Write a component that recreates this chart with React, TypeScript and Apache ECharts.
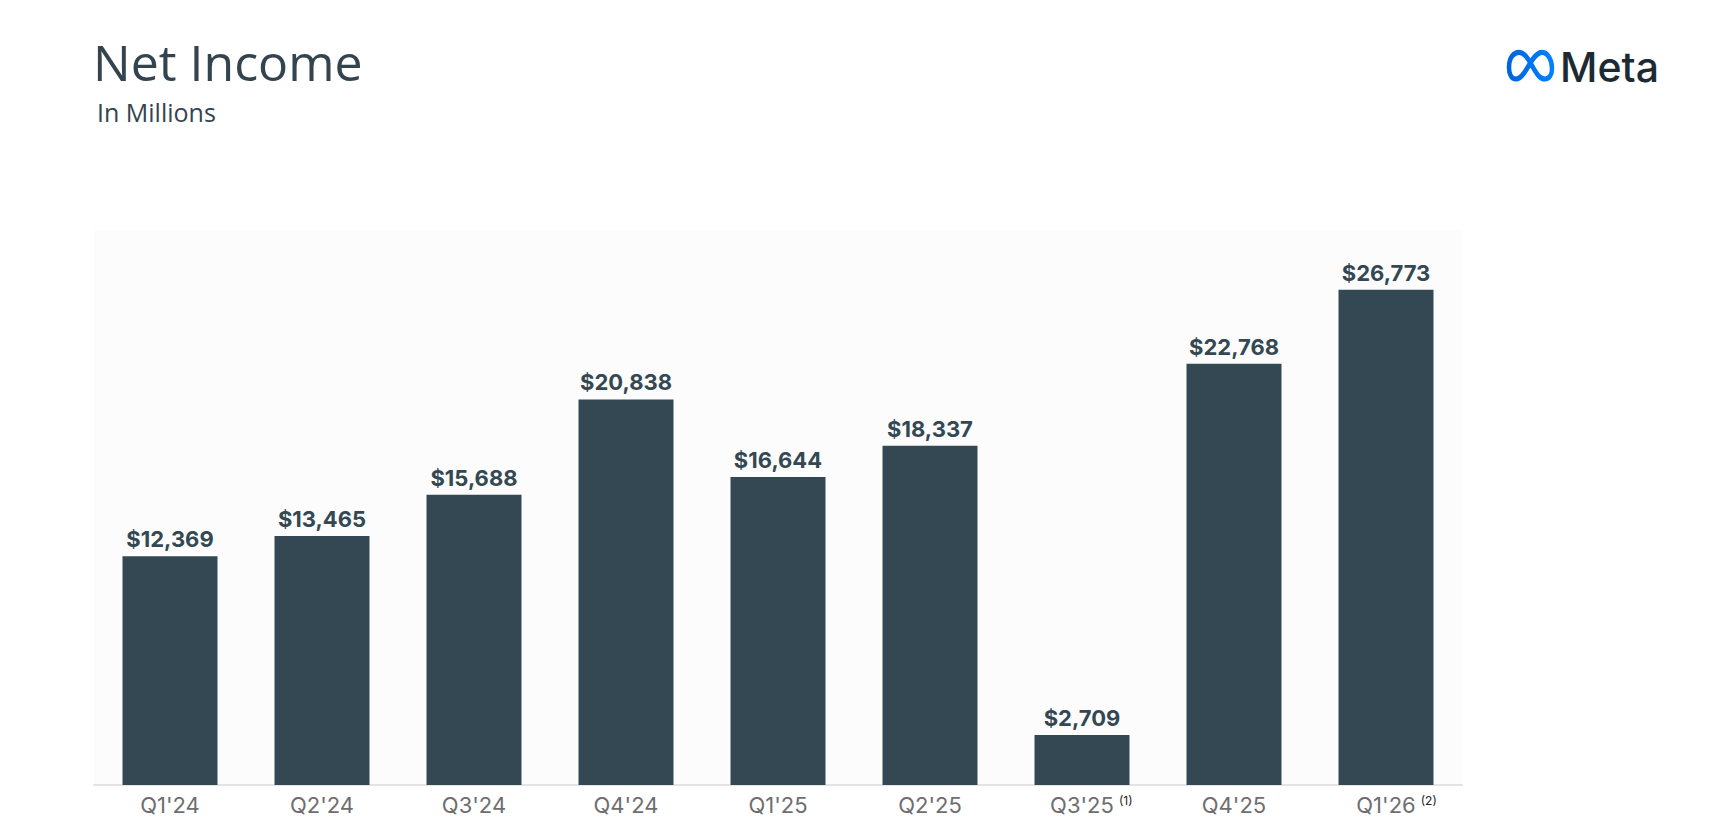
import React, { useEffect, useRef } from "react";
import * as echarts from "echarts";

const categories = ["Q1'24", "Q2'24", "Q3'24", "Q4'24", "Q1'25", "Q2'25", "Q3'25", "Q4'25", "Q1'26"];
const footnotes = ["", "", "", "", "", "", "(1)", "", "(2)"];
const netIncome = [12369, 13465, 15688, 20838, 16644, 18337, 2709, 22768, 26773];

const TITLE = "Net Income";
const SUBTITLE = "In Millions";

const INFINITY_D =
  "M8,30 C8,12 18,4 28,4 C40,4 48,18 56,30 C64,42 70,50 80,50 C88,50 94,43 94,32 C94,18 86,4 74,4 C62,4 52,20 44,32 C36,44 30,50 22,50 C13,50 8,42 8,30 Z";

export default function App() {
  const ref = useRef<HTMLDivElement>(null);
  useEffect(() => {
    if (!ref.current) return;
    try {
      echarts.graphic.registerShape("metaInf", echarts.graphic.extendPath(INFINITY_D, {}) as any);
    } catch (e) {}
    const chart = echarts.init(ref.current, null, { renderer: "svg" });
    const font = "Inter, 'Noto Sans', sans-serif";
    chart.setOption({
      animation: false,
      backgroundColor: "#ffffff",
      grid: {
        left: 94,
        right: 272,
        top: 230,
        bottom: 52,
        show: true,
        backgroundColor: "#fcfcfc",
        borderWidth: 0,
      },
      title: [
        {
          text: TITLE,
          left: 93,
          top: 37,
          padding: 0,
          textStyle: { fontFamily: "'Open Sans', sans-serif", fontSize: 50, fontWeight: 400, color: "#33444f" },
        },
        {
          text: SUBTITLE,
          left: 97,
          top: 99,
          padding: 0,
          textStyle: { fontFamily: "'Open Sans', sans-serif", fontSize: 25, fontWeight: 400, color: "#33444f" },
        },
      ],
      graphic: [
        {
          type: "metaInf",
          x: 1505,
          y: 50,
          scaleX: 0.5,
          scaleY: 0.58,
          style: {
            fill: null,
            stroke: new echarts.graphic.LinearGradient(0, 0, 1, 0, [
              { offset: 0, color: "#0064e0" },
              { offset: 1, color: "#0082fb" },
            ]),
            lineWidth: 9,
          },
        },
        {
          type: "text",
          x: 1560,
          y: 46,
          style: {
            text: "Meta",
            font: "500 41px Inter, 'Noto Sans', sans-serif",
            fill: "#1c2b33",
          },
        },
      ],
      xAxis: {
        type: "category",
        data: categories,
        axisLine: { lineStyle: { color: "#e3e3e3", width: 2 } },
        axisTick: { show: false },
        axisLabel: {
          interval: 0,
          margin: 9,
          fontFamily: font,
          fontSize: 22,
          color: "#6e6e6e",
          formatter: (v: string, i: number) => {
            const f = footnotes[i];
            return f ? `{sp|${f}}${v}{sup|${f}}` : v;
          },
          rich: {
            sup: { fontSize: 12, color: "#222", verticalAlign: "top", padding: [0, 0, 8, 5], fontFamily: font },
            sp: { fontSize: 12, color: "transparent", padding: [0, 5, 8, 0], fontFamily: font },
          },
        },
      },
      yAxis: {
        type: "value",
        min: 0,
        max: 30000,
        show: false,
        splitLine: { show: false },
      },
      series: [
        {
          type: "bar",
          data: netIncome,
          barWidth: "62.5%",
          itemStyle: { color: "#344853" },
          label: {
            show: true,
            position: "top",
            distance: 6,
            fontFamily: font,
            fontSize: 22,
            fontWeight: 700,
            color: "#344853",
            formatter: (p: any) => "$" + p.value.toLocaleString("en-US"),
          },
        },
      ],
    });
    return () => chart.dispose();
  }, []);
  return <div ref={ref} style={{ position: "fixed", left: 0, top: 0, width: 1734, height: 837 }} />;
}
